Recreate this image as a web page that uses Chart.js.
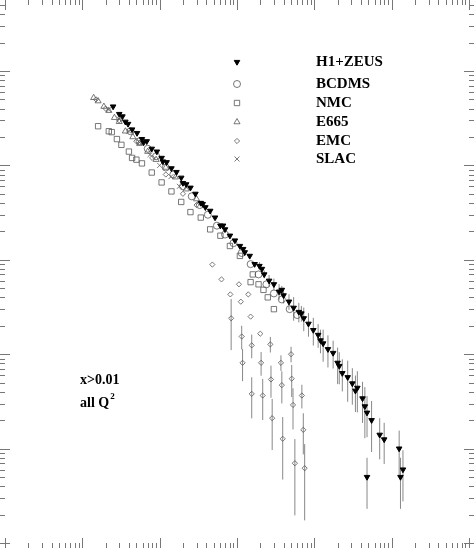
<!DOCTYPE html>
<html><head><meta charset="utf-8">
<script src="https://cdn.jsdelivr.net/npm/chart.js@4/dist/chart.umd.min.js"></script>
<style>html,body{margin:0;padding:0;background:#fff}#w{position:relative;width:474px;height:548px}</style>
</head><body><div id="w"><canvas id="c"></canvas></div>
<script>
// H1+ZEUS
const h1X=[2.5,3.0,3.3,3.9,4.4,5.1,5.9,6.8,7.9,9.2,10.6,12.3,14.2,16.5,19,22,25,29,34,39,45,52,61,70,81,94,109,126,146,169,195,225,260,300,350,400,470,540,630,730,840,970,1120,1300,1500,1750,2000,2300,2700,3100,3600,4200,4500,4800,5500,7000,8000,4800,12500,13000,14000,3.6,6.2,11,20,36,66,120,210,380,680,1200,2100,3400];
const h1Y=[4200,3500,3300,2750,2400,2200,1900,1800,1500,1400,1200,1080,930,850,740,630,580,500,400,360,330,280,230,210,180,160,140,120,110,90,86,70,60,55,46,42,36,31,28,24,21,18,16,13,11.3,10.3,8.1,6.3,5.7,4.9,4.4,3.4,2.8,2.4,2.0,1.4,1.25,0.5,1.0,0.5,0.6,2900,1750,1100,650,390,230,130,80,48,27,14,7.5,4.1];
const h1E=[0,0,0,0,0,0,0,0,0,0,0,0,0,0,0,0,0,0,0,0,0,0,0,0,0,0,0,0,0,0,0.1,0.1,0.15,0.15,0.2,0.2,0.2,0.3,0.25,0.3,0.3,0.35,0.3,0.4,0.4,0.35,0.45,0.4,0.5,0.45,0.5,0.5,0.6,0.5,0.6,0.5,0.5,0.6,0.55,0.6,0.6,0,0,0,0,0,0,0,0,0.1,0.2,0.3,0.4,0.45];
// BCDMS
const bcX=[4.2,5.5,7,9,12,15,20,26,33,42,55,70,90,115,150,190,240,300,380,480,600];
const bcY=[2300,1800,1500,1250,950,800,600,470,380,300,230,185,150,118,90,70,55,44,38,30,26];
// NMC
const nmX=[1.6,2.2,2.4,2.8,3.2,4.0,4.4,5.0,5.9,7.9,10.6,14.2,19,25,34,45,61,81,109,160,190,150,220,250,300];
const nmY=[2600,2300,2250,1900,1650,1400,1200,1150,1050,840,660,530,410,320,280,210,180,140,110,70,55,58,48,40,30];
// E665
const e6X=[1.4,1.6,1.9,2.2,2.6,3.0,3.6,4.5,5.5,7,9,12,16,22,30];
const e6Y=[5200,4800,4200,3800,3200,2900,2300,2000,1700,1400,1150,950,750,560,440];
// EMC
const emX=[1.5,2,3,5,8,12,20,30,48,63,82,84,106,112,115,118,140,150,155,155,200,205,215,270,275,285,370,380,390,500,510,530,560,690,720,750];
const emY=[5000,4000,3000,1800,1200,800,500,380,89,62,43,24,55,36,15.4,8.1,43,25,12.4,3.8,16.5,8.1,3.65,12.7,5.4,2.1,8.1,4.7,1.27,10,5.5,2.9,0.7,3.65,1.58,0.62];
const emE=[0,0,0,0,0,0,0,0,0,0,0,0.6,0,0,0.3,0.4,0,0,0.3,0.5,0,0.3,0.5,0.2,0.4,0.6,0.2,0.4,0.7,0.2,0.4,0.5,0.8,0.3,0.5,0.8];
// SLAC
const slX=[2.2,3,4,5.5,7.5,10,14,18];
const slY=[3900,3100,2300,1750,1300,1000,760,600];
const legendNames=["H1+ZEUS","BCDMS","NMC","E665","EMC","SLAC"];
const xTickRange=[0.1,1e5], yTickRange=[0.1,5e4];

const pts=(xs,ys,es)=>xs.map((x,i)=>({x,y:ys[i],e:es?es[i]:0}));
const G='#555';
const ds=[
 {label:legendNames[0],data:pts(h1X,h1Y,h1E),pointStyle:'triangle',rotation:180,radius:3.2,backgroundColor:'#000',borderColor:'#000',borderWidth:1},
 {label:legendNames[1],data:pts(bcX,bcY),pointStyle:'circle',radius:3.5,backgroundColor:'rgba(0,0,0,0)',borderColor:G,borderWidth:0.8},
 {label:legendNames[2],data:pts(nmX,nmY),pointStyle:'rect',radius:3.8,backgroundColor:'rgba(0,0,0,0)',borderColor:G,borderWidth:0.8},
 {label:legendNames[3],data:pts(e6X,e6Y),pointStyle:'triangle',radius:3.5,backgroundColor:'rgba(0,0,0,0)',borderColor:G,borderWidth:0.8},
 {label:legendNames[4],data:pts(emX,emY,emE),pointStyle:'rectRot',radius:2.6,backgroundColor:'rgba(0,0,0,0)',borderColor:G,borderWidth:0.8},
 {label:legendNames[5],data:pts(slX,slY),pointStyle:'crossRot',radius:3.5,backgroundColor:'rgba(0,0,0,0)',borderColor:G,borderWidth:0.8}
];
function logTicks(lo,hi){const out=[];for(let d=Math.floor(Math.log10(lo));d<=Math.ceil(Math.log10(hi));d++)for(let m=1;m<10;m++){const v=m*Math.pow(10,d);if(v>=lo&&v<=hi)out.push({v,maj:m===1});}return out;}
const deco={id:'deco',
 beforeDatasetsDraw(ch){const c=ch.ctx,xs=ch.scales.x,ys=ch.scales.y;c.save();c.strokeStyle='#888';c.lineWidth=1;
  ch.data.datasets.forEach(d=>d.data.forEach(p=>{if(p.e>0){const px=xs.getPixelForValue(p.x);c.beginPath();c.moveTo(px,ys.getPixelForValue(p.y*(1+p.e)));c.lineTo(px,ys.getPixelForValue(p.y*(1-p.e*0.9)));c.stroke();}}));c.restore();},
 afterDraw(ch){const c=ch.ctx,xs=ch.scales.x,ys=ch.scales.y,W=ch.width,H=ch.height;c.save();c.strokeStyle='#777';c.lineWidth=1;
  logTicks(xTickRange[0],xTickRange[1]).forEach(t=>{const px=Math.round(xs.getPixelForValue(t.v))+0.5,L=t.maj?10:5;c.beginPath();c.moveTo(px,0);c.lineTo(px,L);c.moveTo(px,H);c.lineTo(px,H-L);c.stroke();});
  logTicks(yTickRange[0],yTickRange[1]).forEach(t=>{const py=Math.round(ys.getPixelForValue(t.v))+0.5,L=t.maj?10:5;c.beginPath();c.moveTo(0,py);c.lineTo(L,py);c.moveTo(W,py);c.lineTo(W-L,py);c.stroke();});
  c.font='bold 15px "Liberation Serif"';c.textBaseline='middle';
  const rows=[62,84,103,122,141,159];
  ch.data.datasets.forEach((d,i)=>{c.fillStyle='#000';c.fillText(d.label,316,rows[i]);
   c.strokeStyle=d.borderColor;c.fillStyle=d.backgroundColor;c.lineWidth=d.borderWidth;
   Chart.helpers.drawPoint(c,{pointStyle:d.pointStyle,rotation:d.rotation||0,radius:d.radius,borderWidth:d.borderWidth},237,rows[i]);});
  c.fillStyle='#000';c.font='bold 14px "Liberation Serif"';c.fillText('x>0.01',80,380);c.fillText('all Q',80,403);
  const w=c.measureText('all Q').width;c.font='bold 9px "Liberation Serif"';c.fillText('2',80+w+1,397);
  c.restore();}};
new Chart(document.getElementById('c'),{type:'scatter',data:{datasets:ds},
 options:{responsive:true,maintainAspectRatio:false,animation:false,layout:{padding:0},
  plugins:{legend:{display:false},tooltip:{enabled:false}},
  scales:{x:{type:'logarithmic',display:false,min:xTickRange[0],max:xTickRange[1]},
          y:{type:'logarithmic',display:false,min:yTickRange[0],max:yTickRange[1]}}},
 plugins:[deco]});
</script></body></html>
